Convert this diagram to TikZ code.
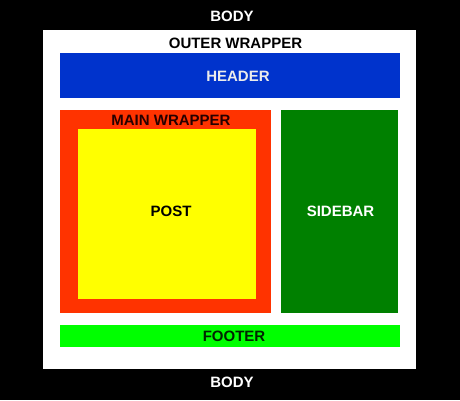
\documentclass[tikz,border=0pt]{standalone}
\usepackage{fontspec}
\setmainfont{Liberation Sans}
\usepackage{tikz}
\usetikzlibrary{positioning}

\definecolor{hdrblue}{RGB}{0,51,204}
\definecolor{mainred}{RGB}{255,51,0}
\definecolor{postyellow}{RGB}{255,255,0}
\definecolor{sidegreen}{RGB}{0,128,0}
\definecolor{footgreen}{RGB}{0,255,0}

\begin{document}
\begin{tikzpicture}[x=1pt,y=-1pt,font=\bfseries\fontsize{15}{18}\selectfont,box/.style={inner sep=0pt,outer sep=0pt,anchor=north west},tag/.style={inner sep=0pt}]

      \fill[black] (0,0) rectangle (460,400);

      \node[box,fill=white,minimum width=373pt,minimum height=339pt] (outer) at (43,30) {};
      \node[box,fill=hdrblue,minimum width=340pt,minimum height=45pt] (header) at (60,53) {};
      \node[box,fill=mainred,minimum width=211pt,minimum height=203pt] (main) at (60,110) {};
      \node[box,fill=postyellow,minimum width=178pt,minimum height=170pt] (post) at (78,129) {};
      \node[box,fill=sidegreen,minimum width=117pt,minimum height=203pt] (sidebar) at (281,110) {};
      \node[box,fill=footgreen,minimum width=340pt,minimum height=22pt] (footer) at (60,325) {};

      \node[tag,white] (bodytop) at (232,16.5) {BODY};
      \node[tag,white] (bodybot) at (232,382) {BODY};
      \node[tag] (outertag) at (235.5,43) {OUTER WRAPPER};
      \node[tag,white!92!black] (headertag) at (238,76) {HEADER};
      \node[tag,black!85!red] (maintag) at (171,120.5) {MAIN WRAPPER};
      \node[tag] (posttag) at (171,211.5) {POST};
      \node[tag,white] (sidetag) at (340.5,211.5) {SIDEBAR};
      \node[tag,black!85!green] (foottag) at (234,336) {FOOTER};

    \end{tikzpicture}
\end{document}
